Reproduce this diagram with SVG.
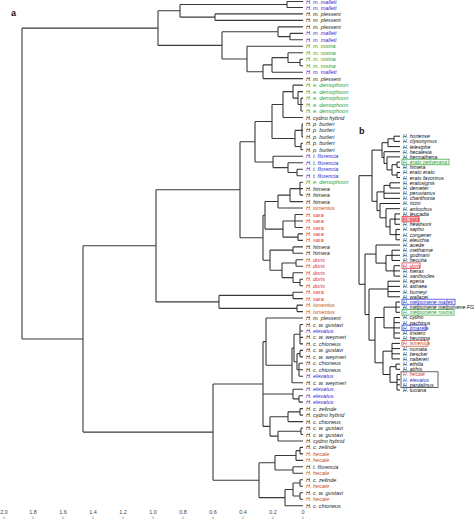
<svg xmlns="http://www.w3.org/2000/svg" width="474" height="520" viewBox="0 0 474 520">
<style>
.br{stroke:#3a3a3a;stroke-width:1.1;fill:none}
.bb{stroke:#222;stroke-width:1;fill:none}
.t{font-family:"Liberation Sans",Arial,sans-serif;font-style:italic;font-size:5.5px;fill:#222}
.u{font-family:"Liberation Sans",Arial,sans-serif;font-style:italic;font-size:5.2px;fill:#111}
.bl{fill:#2c2ccc}.gr{fill:#2e9e2e}.rd{fill:#e52b2b}.or{fill:#cc4a22}
.ax{font-family:"Liberation Sans",Arial,sans-serif;font-size:5.5px;fill:#444;text-anchor:middle}
.lab{font-family:"Liberation Sans",Arial,sans-serif;font-weight:bold;font-size:9px;fill:#111}
</style>
<rect width="474" height="520" fill="#fff"/>
<text class="lab" x="11" y="16">a</text>
<text class="lab" x="359" y="134">b</text>
<g id="connectors-a" class="br">
<path d="M287 1.5V7.5M287 1.5H303M287 7.5H303"/>
<path d="M215 13.9V20.4M215 13.9H303M215 20.4H303"/>
<path d="M180 4.5V17.15M180 4.5H287M180 17.15H215"/>
<path d="M290 33.4V39.8M290 33.4H303M290 39.8H303"/>
<path d="M278 26.9V36.6M278 26.9H303M278 36.6H290"/>
<path d="M300 59.2V65.7M300 59.2H303M300 65.7H303"/>
<path d="M288 52.8V62.45M288 52.8H303M288 62.45H300"/>
<path d="M272 57.6V72.2M272 57.6H288M272 72.2H303"/>
<path d="M263 64.9V78.6M263 64.9H272M263 78.6H303"/>
<path d="M247 46.3V71.75M247 46.3H303M247 71.75H263"/>
<path d="M222 31.75V59M222 31.75H278M222 59H247"/>
<path d="M158 10.8V45.4M158 10.8H180M158 45.4H222"/>
<path d="M301 98.1V111M301 98.1H303M301 104.5H303M301 111H303"/>
<path d="M298 91.6V104.55M298 91.6H303M298 104.55H301"/>
<path d="M293 85.1V98.1M293 85.1H303M293 98.1H298"/>
<path d="M283 91.6V117.5M283 91.6H293M283 117.5H303"/>
<path d="M302 123.9V136.9M302 123.9H303M302 130.4H303M302 136.9H303"/>
<path d="M301 143.3V149.8M301 143.3H303M301 149.8H303"/>
<path d="M295 130.4V146.55M295 130.4H302M295 146.55H301"/>
<path d="M272 104.55V138.5M272 104.55H283M272 138.5H295"/>
<path d="M297 169.2V175.7M297 169.2H303M297 175.7H303"/>
<path d="M288 162.8V172.45M288 162.8H303M288 172.45H297"/>
<path d="M273 156.3V167.6M273 156.3H303M273 167.6H288"/>
<path d="M255 121.5V161.95M255 121.5H272M255 161.95H273"/>
<path d="M300 182.2V195.1M300 182.2H303M300 188.6H303M300 195.1H303"/>
<path d="M290 188.65V201.6M290 188.65H300M290 201.6H303"/>
<path d="M278 195.1V208M278 195.1H290M278 208H303"/>
<path d="M295 214.5V227.5M295 214.5H303M295 221H303M295 227.5H303"/>
<path d="M298 233.9V240.4M298 233.9H303M298 240.4H303"/>
<path d="M283 221V237.15M283 221H295M283 237.15H298"/>
<path d="M265 201.55V229.1M265 201.55H278M265 229.1H283"/>
<path d="M293 246.9V253.3M293 246.9H303M293 253.3H303"/>
<path d="M296 259.8V266.3M296 259.8H303M296 266.3H303"/>
<path d="M300 279.2V285.7M300 279.2H303M300 285.7H303"/>
<path d="M293 272.7V282.45M293 272.7H303M293 282.45H300"/>
<path d="M282 263.05V277.6M282 263.05H296M282 277.6H293"/>
<path d="M270 250.1V270.3M270 250.1H293M270 270.3H282"/>
<path d="M263 215.3V260.2M263 215.3H265M263 260.2H270"/>
<path d="M240 141.7V237.75M240 141.7H255M240 237.75H263"/>
<path d="M293 292.2V298.6M293 292.2H303M293 298.6H303"/>
<path d="M297 305.1V311.6M297 305.1H303M297 311.6H303"/>
<path d="M219 295.4V308.35M219 295.4H293M219 308.35H297"/>
<path d="M156 189.7V301.9M156 189.7H240M156 301.9H219"/>
<path d="M300 324.5V343.9M300 324.5H303M300 331H303M300 337.4H303M300 343.9H303"/>
<path d="M300 350.4V356.9M300 350.4H303M300 356.9H303"/>
<path d="M299 363.3V376.3M299 363.3H303M299 369.8H303M299 376.3H303"/>
<path d="M297 353.65V369.8M297 353.65H300M297 369.8H299"/>
<path d="M294 334.2V361.7M294 334.2H300M294 361.7H297"/>
<path d="M292 347.95V382.7M292 347.95H294M292 382.7H303"/>
<path d="M266 318V365.3M266 318H303M266 365.3H292"/>
<path d="M299 395.7V402.1M299 395.7H303M299 402.1H303"/>
<path d="M293 389.2V398.9M293 389.2H303M293 398.9H299"/>
<path d="M300 408.6V415.1M300 408.6H303M300 415.1H303"/>
<path d="M288 411.85V421.6M288 411.85H300M288 421.6H303"/>
<path d="M301 428V434.5M301 428H303M301 434.5H303"/>
<path d="M278 431.25V441M278 431.25H301M278 441H303"/>
<path d="M270 416.7V436.1M270 416.7H288M270 436.1H278"/>
<path d="M263 341.65V426.4M263 341.65H266M263 394.05H293M263 426.4H270"/>
<path d="M300 447.4V453.9M300 447.4H303M300 453.9H303"/>
<path d="M296 450.65V460.4M296 450.65H300M296 460.4H303"/>
<path d="M293 466.8V473.3M293 466.8H303M293 473.3H303"/>
<path d="M275 455.5V470.05M275 455.5H296M275 470.05H293"/>
<path d="M300 479.8V486.2M300 479.8H303M300 486.2H303"/>
<path d="M300 492.7V499.2M300 492.7H303M300 499.2H303"/>
<path d="M293 483V495.95M293 483H300M293 495.95H300"/>
<path d="M285 489.5V505.7M285 489.5H293M285 505.7H303"/>
<path d="M259 462.8V497.6M259 462.8H275M259 497.6H285"/>
<path d="M213 384V480.2M213 384H263M213 480.2H259"/>
<path d="M83 245.8V432.1M83 245.8H156M83 432.1H213"/>
<path d="M22 28.1V339M22 28.1H158M22 339H83"/>
</g>
<g id="axis">
<g class="ax">
<text x="4" y="514">2.0</text><text x="33" y="514">1.8</text><text x="63" y="514">1.6</text><text x="93" y="514">1.4</text><text x="123" y="514">1.2</text><text x="153" y="514">1.0</text><text x="183" y="514">0.8</text><text x="213" y="514">0.6</text><text x="243" y="514">0.4</text><text x="273" y="514">0.2</text><text x="303" y="514">0</text>
</g>
<path stroke="#666" stroke-width="0.6" d="M4 516.5V519M33 516.5V519M63 516.5V519M93 516.5V519M123 516.5V519M153 516.5V519M183 516.5V519M213 516.5V519M243 516.5V519M273 516.5V519M303 516.5V519"/>
</g>
<g id="leaves-a">
<g id="a0"><text class="t bl" x="306" y="4">H. m. malleti</text></g>
<g id="a1"><text class="t bl" x="306" y="9.5">H. m. malleti</text></g>
<g id="a2"><text class="t" x="306" y="15.9">H. m. plesseni</text></g>
<g id="a3"><text class="t" x="306" y="22.4">H. m. plesseni</text></g>
<g id="a4"><text class="t" x="306" y="28.9">H. m. plesseni</text></g>
<g id="a5"><text class="t bl" x="306" y="35.4">H. m. malleti</text></g>
<g id="a6"><text class="t bl" x="306" y="41.8">H. m. malleti</text></g>
<g id="a7"><text class="t gr" x="306" y="48.3">H. m. rosina</text></g>
<g id="a8"><text class="t gr" x="306" y="54.8">H. m. rosina</text></g>
<g id="a9"><text class="t gr" x="306" y="61.2">H. m. rosina</text></g>
<g id="a10"><text class="t gr" x="306" y="67.7">H. m. rosina</text></g>
<g id="a11"><text class="t bl" x="306" y="74.2">H. m. malleti</text></g>
<g id="a12"><text class="t" x="306" y="80.6">H. m. plesseni</text></g>
<g id="a13"><text class="t gr" x="306" y="87.1">H. e. demophoon</text></g>
<g id="a14"><text class="t gr" x="306" y="93.6">H. e. demophoon</text></g>
<g id="a15"><text class="t gr" x="306" y="100.1">H. e. demophoon</text></g>
<g id="a16"><text class="t gr" x="306" y="106.5">H. e. demophoon</text></g>
<g id="a17"><text class="t gr" x="306" y="113">H. e. demophoon</text></g>
<g id="a18"><text class="t" x="306" y="119.5">H. cydno hybrid</text></g>
<g id="a19"><text class="t" x="306" y="125.9">H. p. burleri</text></g>
<g id="a20"><text class="t" x="306" y="132.4">H. p. burleri</text></g>
<g id="a21"><text class="t" x="306" y="138.9">H. p. burleri</text></g>
<g id="a22"><text class="t" x="306" y="145.3">H. p. burleri</text></g>
<g id="a23"><text class="t" x="306" y="151.8">H. p. burleri</text></g>
<g id="a24"><text class="t bl" x="306" y="158.3">H. t. florencia</text></g>
<g id="a25"><text class="t bl" x="306" y="164.8">H. t. florencia</text></g>
<g id="a26"><text class="t bl" x="306" y="171.2">H. t. florencia</text></g>
<g id="a27"><text class="t bl" x="306" y="177.7">H. t. florencia</text></g>
<g id="a28"><text class="t gr" x="306" y="184.2">H. e. demophoon</text></g>
<g id="a29"><text class="t" x="306" y="190.6">H. himera</text></g>
<g id="a30"><text class="t" x="306" y="197.1">H. himera</text></g>
<g id="a31"><text class="t" x="306" y="203.6">H. himera</text></g>
<g id="a32"><text class="t or" x="306" y="210">H. ismenius</text></g>
<g id="a33"><text class="t rd" x="306" y="216.5">H. sara</text></g>
<g id="a34"><text class="t rd" x="306" y="223">H. sara</text></g>
<g id="a35"><text class="t rd" x="306" y="229.5">H. sara</text></g>
<g id="a36"><text class="t rd" x="306" y="235.9">H. sara</text></g>
<g id="a37"><text class="t rd" x="306" y="242.4">H. sara</text></g>
<g id="a38"><text class="t" x="306" y="248.9">H. himera</text></g>
<g id="a39"><text class="t" x="306" y="255.3">H. himera</text></g>
<g id="a40"><text class="t rd" x="306" y="261.8">H. doris</text></g>
<g id="a41"><text class="t rd" x="306" y="268.3">H. doris</text></g>
<g id="a42"><text class="t rd" x="306" y="274.7">H. doris</text></g>
<g id="a43"><text class="t rd" x="306" y="281.2">H. doris</text></g>
<g id="a44"><text class="t rd" x="306" y="287.7">H. doris</text></g>
<g id="a45"><text class="t rd" x="306" y="294.2">H. sara</text></g>
<g id="a46"><text class="t rd" x="306" y="300.6">H. sara</text></g>
<g id="a47"><text class="t or" x="306" y="307.1">H. ismenius</text></g>
<g id="a48"><text class="t or" x="306" y="313.6">H. ismenius</text></g>
<g id="a49"><text class="t" x="306" y="320">H. m. plesseni</text></g>
<g id="a50"><text class="t" x="306" y="326.5">H. c. w. gustavi</text></g>
<g id="a51"><text class="t bl" x="306" y="333">H. elevatus</text></g>
<g id="a52"><text class="t" x="306" y="339.4">H. c. w. weymeri</text></g>
<g id="a53"><text class="t" x="306" y="345.9">H. c. chioneus</text></g>
<g id="a54"><text class="t" x="306" y="352.4">H. c. w. gustavi</text></g>
<g id="a55"><text class="t" x="306" y="358.9">H. c. w. weymeri</text></g>
<g id="a56"><text class="t" x="306" y="365.3">H. c. chioneus</text></g>
<g id="a57"><text class="t" x="306" y="371.8">H. c. chioneus</text></g>
<g id="a58"><text class="t bl" x="306" y="378.3">H. elevatus</text></g>
<g id="a59"><text class="t" x="306" y="384.7">H. c. w. weymeri</text></g>
<g id="a60"><text class="t bl" x="306" y="391.2">H. elevatus</text></g>
<g id="a61"><text class="t bl" x="306" y="397.7">H. elevatus</text></g>
<g id="a62"><text class="t bl" x="306" y="404.1">H. elevatus</text></g>
<g id="a63"><text class="t" x="306" y="410.6">H. c. zelinde</text></g>
<g id="a64"><text class="t" x="306" y="417.1">H. cydno hybrid</text></g>
<g id="a65"><text class="t" x="306" y="423.6">H. c. chioneus</text></g>
<g id="a66"><text class="t" x="306" y="430">H. c. w. gustavi</text></g>
<g id="a67"><text class="t" x="306" y="436.5">H. c. w. gustavi</text></g>
<g id="a68"><text class="t" x="306" y="443">H. cydno hybrid</text></g>
<g id="a69"><text class="t" x="306" y="449.4">H. c. zelinde</text></g>
<g id="a70"><text class="t or" x="306" y="455.9">H. hecale</text></g>
<g id="a71"><text class="t or" x="306" y="462.4">H. hecale</text></g>
<g id="a72"><text class="t" x="306" y="468.8">H. t. florencia</text></g>
<g id="a73"><text class="t or" x="306" y="475.3">H. hecale</text></g>
<g id="a74"><text class="t" x="306" y="481.8">H. c. zelinde</text></g>
<g id="a75"><text class="t or" x="306" y="488.2">H. hecale</text></g>
<g id="a76"><text class="t" x="306" y="494.7">H. c. w. gustavi</text></g>
<g id="a77"><text class="t or" x="306" y="501.2">H. hecale</text></g>
<g id="a78"><text class="t" x="306" y="507.7">H. c. chioneus</text></g>
</g>
<g id="connectors-b" class="bb">
<path d="M394 136.2V141.4M394 136.2H400M394 141.4H400"/>
<path d="M388 138.8V146.6M388 138.8H394M388 146.6H400"/>
<path d="M397 162.1V167.3M397 162.1H400M397 167.3H400"/>
<path d="M397 172.5V177.6M397 172.5H400M397 177.6H400"/>
<path d="M392 164.7V175.05M392 164.7H397M392 175.05H397"/>
<path d="M387 156.9V169.9M387 156.9H400M387 169.9H392"/>
<path d="M384 151.7V163.4M384 151.7H400M384 163.4H387"/>
<path d="M382 142.7V157.55M382 142.7H388M382 157.55H384"/>
<path d="M390 182.8V188M390 182.8H400M390 188H400"/>
<path d="M384 185.4V198.4M384 185.4H390M384 193.2H400M384 198.4H400"/>
<path d="M395 213.9V224.3M395 213.9H400M395 219.1H400M395 224.3H400"/>
<path d="M396 229.4V239.8M396 229.4H400M396 234.6H400M396 239.8H400"/>
<path d="M390 219.1V234.6M390 219.1H395M390 234.6H396"/>
<path d="M386 208.7V226.85M386 208.7H400M386 226.85H390"/>
<path d="M380 203.5V217.8M380 203.5H400M380 217.8H386"/>
<path d="M377 191.9V210.65M377 191.9H384M377 210.65H380"/>
<path d="M372 150.1V201.3M372 150.1H382M372 201.3H377"/>
<path d="M392 250.2V260.5M392 250.2H400M392 255.3H400M392 260.5H400"/>
<path d="M394 265.7V276.1M394 265.7H400M394 270.9H400M394 276.1H400"/>
<path d="M386 255.35V270.9M386 255.35H392M386 270.9H394"/>
<path d="M376 245V263.1M376 245H400M376 263.1H386"/>
<path d="M388 281.2V296.8M388 281.2H400M388 286.4H400M388 291.6H400M388 296.8H400"/>
<path d="M396 302V312.3M396 302H400M396 307.1H400M396 312.3H400"/>
<path d="M394 317.5V338.2M394 317.5H400M394 322.7H400M394 327.9H400M394 333H400M394 338.2H400"/>
<path d="M384 307.15V327.85M384 307.15H396M384 327.85H394"/>
<path d="M392 343.4V358.9M392 343.4H400M392 348.6H400M392 353.8H400M392 358.9H400"/>
<path d="M396 364.1V369.3M396 364.1H400M396 369.3H400"/>
<path d="M397 374.5V390M397 374.5H400M397 379.7H400M397 384.8H400M397 390H400"/>
<path d="M390 366.7V382.25M390 366.7H396M390 382.25H397"/>
<path d="M383 351.15V374.5M383 351.15H392M383 374.5H390"/>
<path d="M375 317.5V362.8M375 317.5H384M375 362.8H383"/>
<path d="M369 289V340.15M369 289H388M369 340.15H375"/>
<path d="M365 254.05V314.6M365 254.05H376M365 314.6H369"/>
<path d="M359 175.7V284.3M359 175.7H372M359 284.3H365"/>
</g>
<g id="boxes-b" fill="none" stroke-width="0.7">
<rect x="402" y="159.2" width="47" height="5.6" stroke="#2e9e2e"/>
<rect x="402" y="216.3" width="17" height="5.6" stroke="#e52b2b" fill="#f6b8b8"/>
<rect x="402" y="262.9" width="18" height="5.6" stroke="#e52b2b"/>
<rect x="402" y="299.2" width="53" height="5.6" stroke="#2c2ccc"/>
<rect x="402" y="309.5" width="52" height="5.6" stroke="#2e9e2e"/>
<rect x="402" y="325.1" width="24" height="5.6" stroke="#2c2ccc"/>
<rect x="402" y="340.6" width="26" height="5.6" stroke="#cc4a22"/>
<rect x="401" y="371.8" width="37" height="15.6" stroke="#222"/>
</g>
<g id="leaves-b">
<g id="b0"><text class="u" x="403" y="138.1">H. hortense</text></g>
<g id="b1"><text class="u" x="403" y="143.3">H. clysonymus</text></g>
<g id="b2"><text class="u" x="403" y="148.5">H. telesiphe</text></g>
<g id="b3"><text class="u" x="403" y="153.6">H. hecalesia</text></g>
<g id="b4"><text class="u" x="403" y="158.8">H. hermathena</text></g>
<g id="b5"><text class="u gr" x="403" y="164">H. erato petiverana</text></g>
<g id="b6"><text class="u" x="403" y="169.2">H. himera</text></g>
<g id="b7"><text class="u" x="403" y="174.4">H. erato erato</text></g>
<g id="b8"><text class="u" x="403" y="179.5">H. erato favorinus</text></g>
<g id="b9"><text class="u" x="403" y="184.7">H. eratosignis</text></g>
<g id="b10"><text class="u" x="403" y="189.9">H. demeter</text></g>
<g id="b11"><text class="u" x="403" y="195.1">H. peruvianus</text></g>
<g id="b12"><text class="u" x="403" y="200.3">H. charithonia</text></g>
<g id="b13"><text class="u" x="403" y="205.4">H. ricini</text></g>
<g id="b14"><text class="u" x="403" y="210.6">H. antiochus</text></g>
<g id="b15"><text class="u" x="403" y="215.8">H. leucadia</text></g>
<g id="b16"><text class="u rd" x="403" y="221">H. sara</text></g>
<g id="b17"><text class="u" x="403" y="226.2">H. hewitsoni</text></g>
<g id="b18"><text class="u" x="403" y="231.3">H. sapho</text></g>
<g id="b19"><text class="u" x="403" y="236.5">H. congener</text></g>
<g id="b20"><text class="u" x="403" y="241.7">H. eleuchia</text></g>
<g id="b21"><text class="u" x="403" y="246.9">H. aoede</text></g>
<g id="b22"><text class="u" x="403" y="252.1">H. metharme</text></g>
<g id="b23"><text class="u" x="403" y="257.2">H. godmani</text></g>
<g id="b24"><text class="u" x="403" y="262.4">H. hecuba</text></g>
<g id="b25"><text class="u rd" x="403" y="267.6">H. doris</text></g>
<g id="b26"><text class="u" x="403" y="272.8">H. hierax</text></g>
<g id="b27"><text class="u" x="403" y="278">H. xanthocles</text></g>
<g id="b28"><text class="u" x="403" y="283.1">H. egeria</text></g>
<g id="b29"><text class="u" x="403" y="288.3">H. astraea</text></g>
<g id="b30"><text class="u" x="403" y="293.5">H. burneyi</text></g>
<g id="b31"><text class="u" x="403" y="298.7">H. wallacei</text></g>
<g id="b32"><text class="u bl" x="403" y="303.9">H. melpomene malleti</text></g>
<g id="b33"><text class="u" x="403" y="309">H. melpomene melpomene FG</text></g>
<g id="b34"><text class="u gr" x="403" y="314.2">H. melpomene rosina</text></g>
<g id="b35"><text class="u" x="403" y="319.4">H. cydno</text></g>
<g id="b36"><text class="u" x="403" y="324.6">H. pachinus</text></g>
<g id="b37"><text class="u bl" x="403" y="329.8">H. timareta</text></g>
<g id="b38"><text class="u" x="403" y="334.9">H. tristero</text></g>
<g id="b39"><text class="u" x="403" y="340.1">H. heurippa</text></g>
<g id="b40"><text class="u or" x="403" y="345.3">H. ismenius</text></g>
<g id="b41"><text class="u" x="403" y="350.5">H. numata</text></g>
<g id="b42"><text class="u" x="403" y="355.7">H. besckei</text></g>
<g id="b43"><text class="u" x="403" y="360.8">H. nattereri</text></g>
<g id="b44"><text class="u" x="403" y="366">H. ethilla</text></g>
<g id="b45"><text class="u" x="403" y="371.2">H. atthis</text></g>
<g id="b46"><text class="u or" x="403" y="376.4">H. hecale</text></g>
<g id="b47"><text class="u bl" x="403" y="381.6">H. elevatus</text></g>
<g id="b48"><text class="u" x="403" y="386.7">H. pardalinus</text></g>
<g id="b49"><text class="u" x="403" y="391.9">H. luciana</text></g>
</g>
</svg>
